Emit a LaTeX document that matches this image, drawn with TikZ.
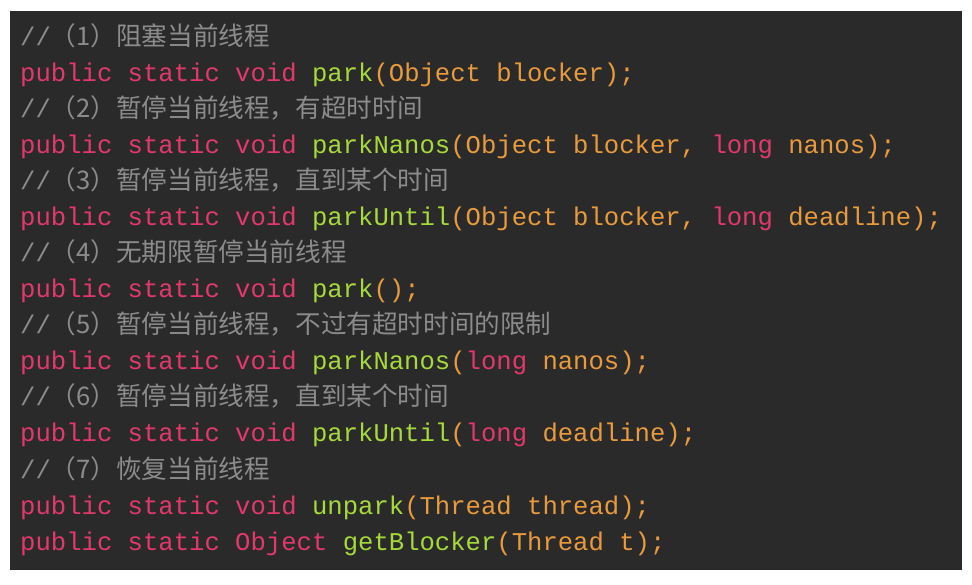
\documentclass[tikz,border=0pt]{standalone}
\usepackage{fontspec}
\setmonofont{Liberation Mono}
\newfontfamily\cjk{Noto Sans CJK SC}
\definecolor{bg}{HTML}{2A2A2A}
\definecolor{kw}{HTML}{E3386C}
\definecolor{fn}{HTML}{A6D93A}
\definecolor{ar}{HTML}{E89A3C}
\definecolor{cm}{HTML}{8C8C8C}
\newcommand\K[1]{\textcolor{kw}{#1}}
\newcommand\F[1]{\textcolor{fn}{#1}}
\newcommand\A[1]{\textcolor{ar}{#1}}
\newcommand\C[1]{\textcolor{cm}{//{\cjk #1}}}
\begin{document}
\begin{tikzpicture}[x=1pt,y=1pt,
  ln/.style={anchor=base west,inner sep=0pt,font=\ttfamily\fontsize{25.6}{25.6}\selectfont}]
\useasboundingbox (0,0) rectangle (972,584);
\fill[white] (0,0) rectangle (972,584);
\fill[bg] (10,14) rectangle (962,573);
\def\Y#1{584-46-36*#1}
\node[ln] (l0) at (20,{\Y{0}}) {\C{（1）阻塞当前线程}};
\node[ln] (l1) at (20,{\Y{1}}) {\K{public static void} \F{park}\A{(Object blocker);}};
\node[ln] (l2) at (20,{\Y{2}}) {\C{（2）暂停当前线程，有超时时间}};
\node[ln] (l3) at (20,{\Y{3}}) {\K{public static void} \F{parkNanos}\A{(Object blocker,} \K{long} \A{nanos);}};
\node[ln] (l4) at (20,{\Y{4}}) {\C{（3）暂停当前线程，直到某个时间}};
\node[ln] (l5) at (20,{\Y{5}}) {\K{public static void} \F{parkUntil}\A{(Object blocker,} \K{long} \A{deadline);}};
\node[ln] (l6) at (20,{\Y{6}}) {\C{（4）无期限暂停当前线程}};
\node[ln] (l7) at (20,{\Y{7}}) {\K{public static void} \F{park}\A{();}};
\node[ln] (l8) at (20,{\Y{8}}) {\C{（5）暂停当前线程，不过有超时时间的限制}};
\node[ln] (l9) at (20,{\Y{9}}) {\K{public static void} \F{parkNanos}\A{(}\K{long} \A{nanos);}};
\node[ln] (l10) at (20,{\Y{10}}) {\C{（6）暂停当前线程，直到某个时间}};
\node[ln] (l11) at (20,{\Y{11}}) {\K{public static void} \F{parkUntil}\A{(}\K{long} \A{deadline);}};
\node[ln] (l12) at (20,{\Y{12}}) {\C{（7）恢复当前线程}};
\node[ln] (l13) at (20,{\Y{13}}) {\K{public static void} \F{unpark}\A{(Thread thread);}};
\node[ln] (l14) at (20,{\Y{14}}) {\K{public static Object} \F{getBlocker}\A{(Thread t);}};
\end{tikzpicture}
\end{document}
